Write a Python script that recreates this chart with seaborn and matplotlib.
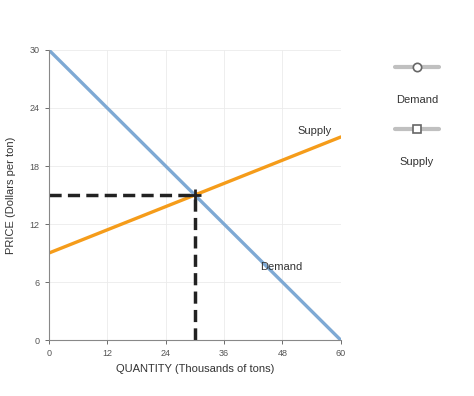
import matplotlib
matplotlib.use("Agg")
import matplotlib.pyplot as plt
from matplotlib.lines import Line2D
import seaborn as sns
import pandas as pd

# chart data
quantity = [0, 60]
demand_price = [30, 0]
supply_price = [9, 21]
eq_quantity = 30
eq_price = 15
ticks_x = [0, 12, 24, 36, 48, 60]
ticks_y = [0, 6, 12, 18, 24, 30]

demand_color = "#7ea9d4"
supply_color = "#f59c1a"

sns.set_style("whitegrid")
plt.rcParams['font.family'] = ['Liberation Sans', 'DejaVu Sans']

fig = plt.figure(figsize=(4.74, 3.96), dpi=100)
ax = fig.add_axes([0.103, 0.141, 0.616, 0.733])

df = pd.DataFrame({"q": quantity, "demand": demand_price, "supply": supply_price})
sns.lineplot(data=df, x="q", y="supply", ax=ax, color=supply_color, lw=2.4)
sns.lineplot(data=df, x="q", y="demand", ax=ax, color=demand_color, lw=2.4)

ax.plot([0, eq_quantity], [eq_price, eq_price], ls=(0, (3.5, 1.8)), color="#222222", lw=2.5)
ax.plot([eq_quantity, eq_quantity], [0, eq_price], ls=(0, (3.5, 1.8)), color="#222222", lw=2.5)
ax.plot([eq_quantity], [eq_price], marker="+", ms=9, mew=2, color="#222222")

ax.text(54.6, 21.6, "Supply", fontsize=8, color="#333333", ha="center", va="center")
ax.text(47.8, 7.6, "Demand", fontsize=8, color="#333333", ha="center", va="center")

ax.set_xlim(0, 60)
ax.set_ylim(0, 30)
ax.set_xticks(ticks_x)
ax.set_yticks(ticks_y)
ax.tick_params(labelsize=6.5, colors="#555555", length=3, width=0.6, direction="out",
               left=True, bottom=True)
ax.grid(color="#ebebeb", lw=0.6)
for s in ["top", "right"]:
    ax.spines[s].set_visible(False)
for s in ["left", "bottom"]:
    ax.spines[s].set_color("#888888")
    ax.spines[s].set_linewidth(0.8)
ax.set_xlabel("QUANTITY (Thousands of tons)", fontsize=8, color="#333333", labelpad=4)
ax.set_ylabel("PRICE (Dollars per ton)", fontsize=8, color="#333333", labelpad=10)

# legend on the right
cx = 417 / 474
for y_marker, y_label, marker, label in [(67, 100, "o", "Demand"), (129, 162, "s", "Supply")]:
    ym = 1 - y_marker / 396
    fig.add_artist(Line2D([cx - 22 / 474, cx + 22 / 474], [ym, ym], color="#c0c0c0", lw=3,
                          transform=fig.transFigure))
    fig.add_artist(Line2D([cx], [ym], marker=marker, ms=6 if marker == "o" else 5.5,
                          mfc="white", mec="#666666", mew=1.2, transform=fig.transFigure))
    fig.text(cx, 1 - y_label / 396, label, fontsize=8, color="#333333", ha="center", va="center")

fig.savefig("out.png", dpi=100)
